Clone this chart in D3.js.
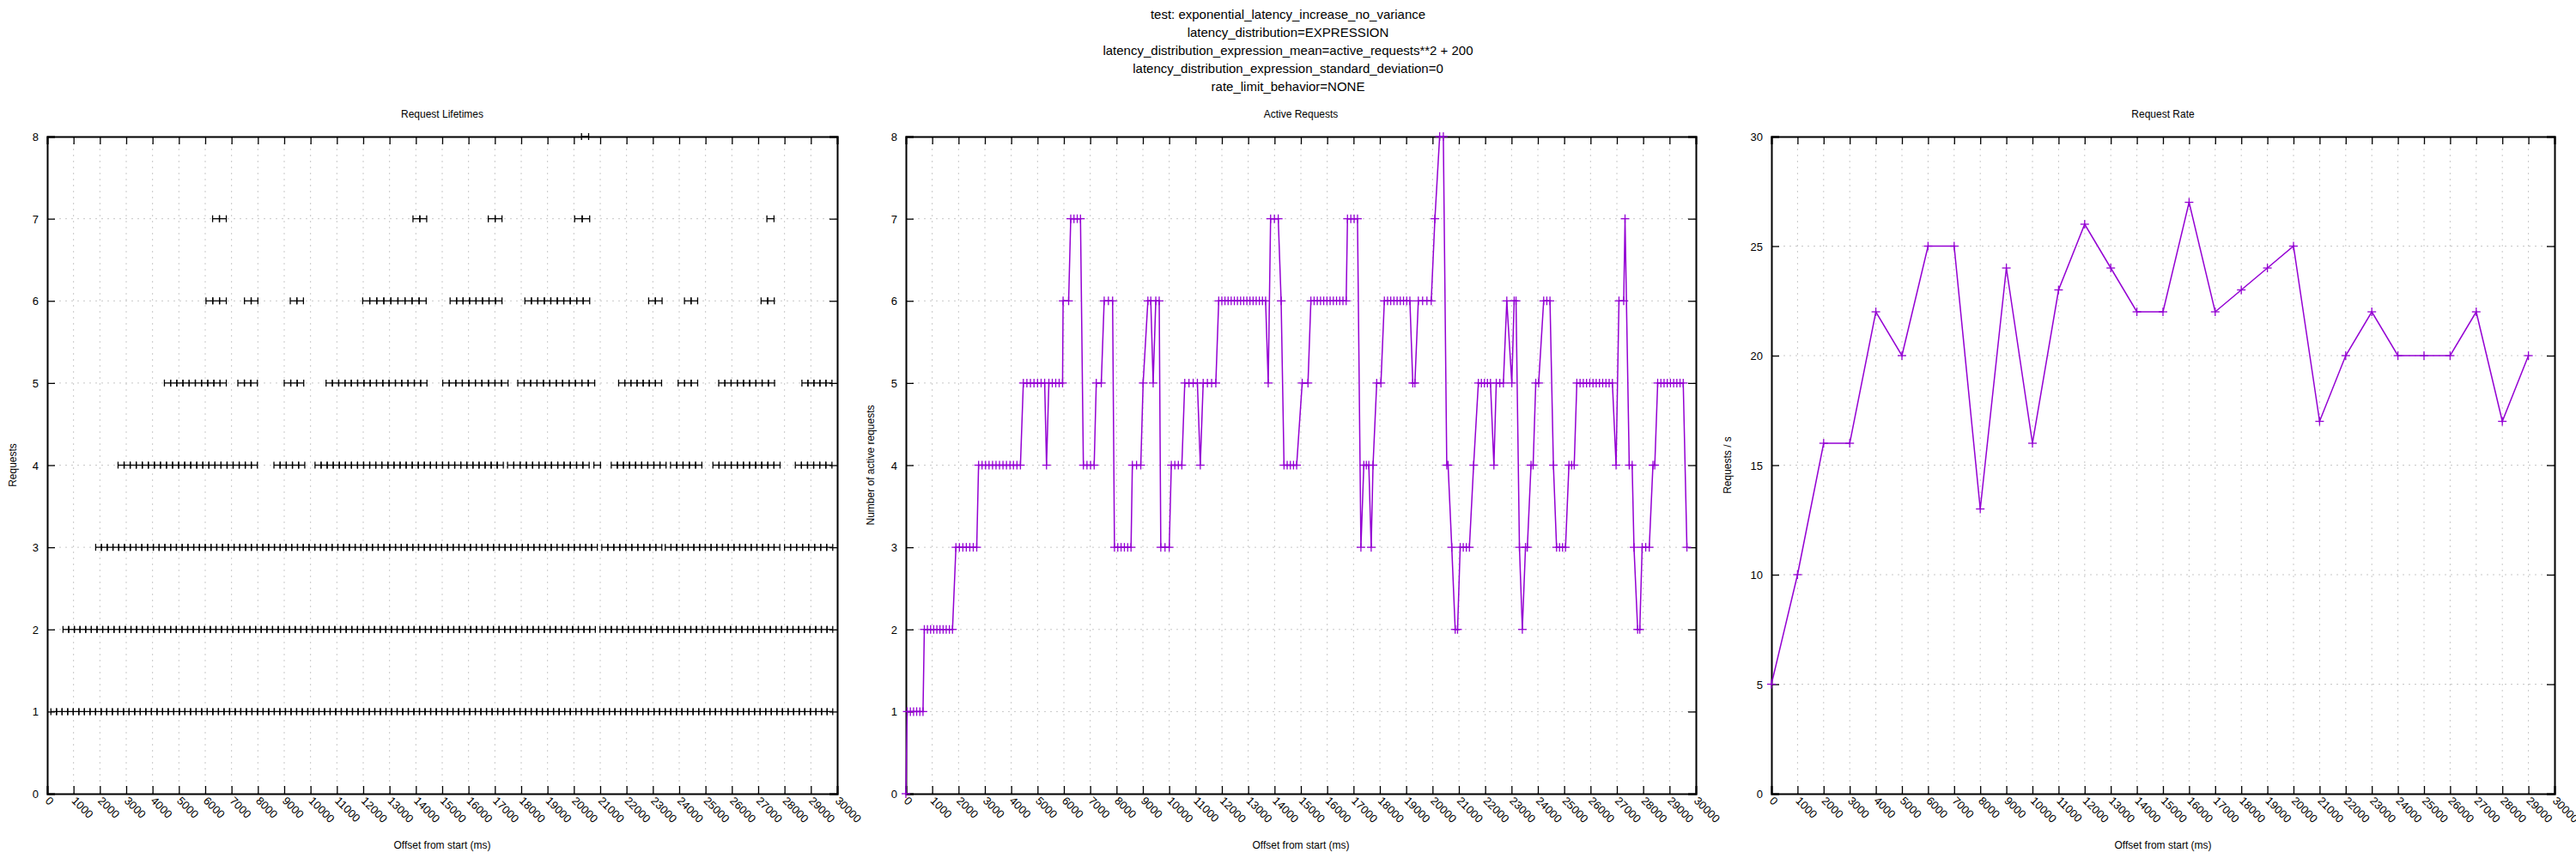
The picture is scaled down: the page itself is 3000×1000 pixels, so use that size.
<!DOCTYPE html>
<html><head><meta charset="utf-8">
<script src="https://cdn.jsdelivr.net/npm/d3@7"></script>
<style>body{margin:0;background:#fff}svg{font-family:"Liberation Sans",Arial,sans-serif}</style>
</head><body><svg id="c" width="3000" height="1000"></svg>
<script>
const titleLines = ["test: exponential_latency_increase_no_variance","latency_distribution=EXPRESSION","latency_distribution_expression_mean=active_requests**2 + 200","latency_distribution_expression_standard_deviation=0","rate_limit_behavior=NONE"];
const xTicks = d3.range(0, 30001, 1000);
// Request lifetimes: [level, start ms, end ms, number of consecutive requests]
const lifetimeRuns = [
 [1,140,29830,140],
 [2,600,20815,94],[2,20990,29830,41],
 [3,1840,20890,87],[3,21060,23340,10],[3,23470,27820,20],[3,28000,29830,8],
 [4,2690,7980,23],[4,8610,9780,5],[4,10170,17320,31],[4,17480,20580,13],[4,20760,21010,1],[4,21420,23500,9],[4,23670,24860,5],[4,25280,27830,11],[4,28410,29800,6],
 [5,4450,6800,10],[5,7240,7980,3],[5,9000,9740,3],[5,10590,14420,16],[5,15020,17500,10],[5,17870,20790,12],[5,21700,23330,7],[5,23960,24700,3],[5,25500,27620,9],[5,28660,29800,5],
 [6,6030,6800,3],[6,7490,8000,2],[6,9230,9730,2],[6,11980,14390,9],[6,15300,17270,8],[6,18140,20600,10],[6,22840,23350,2],[6,24200,24700,2],[6,27110,27610,2],
 [7,6280,6800,2],[7,13890,14410,2],[7,16750,17270,2],[7,20030,20600,2],[7,27330,27600,1],
 [8,20290,20560,1]
];
// Active requests plateaus: [value, first ms, last ms, number of samples]
const activePlateaus = [
 [0,0,0,1],[1,50,650,6],[2,700,1770,10],[3,1900,2690,7],[4,2760,4350,13],[5,4460,5270,7],[4,5340,5340,1],[5,5430,5950,5],[6,5970,6180,2],[7,6260,6630,4],[4,6740,7150,4],[5,7230,7420,2],[6,7530,7850,3],[3,7920,8550,6],[4,8600,8920,3],[5,9010,9010,1],[6,9190,9300,2],[5,9390,9390,1],[6,9490,9620,2],[3,9680,10000,3],[4,10080,10480,4],[5,10590,11070,4],[4,11180,11180,1],[5,11290,11770,4],[6,11880,13660,16],[5,13760,13760,1],[7,13850,14140,3],[6,14250,14250,1],[4,14360,14840,5],
 [5,15050,15270,2],[6,15380,16720,12],[7,16770,17150,4],[3,17280,17280,1],[4,17390,17580,3],[3,17670,17670,1],[4,17740,17740,1],[5,17880,18040,2],[6,18170,19140,9],[5,19250,19330,2],[6,19460,19950,4],[7,20090,20090,1],[8,20270,20410,2],[4,20540,20590,2],[3,20730,20730,1],[2,20860,20950,2],[3,21050,21400,4],[4,21560,21560,1],[5,21740,22200,5],[4,22330,22330,1],[5,22420,22690,3],[6,22820,22820,1],[5,23010,23010,1],[6,23100,23170,2],[3,23300,23300,1],[2,23410,23410,1],[3,23530,23600,2],[4,23740,23820,2],[5,23920,24030,2],[6,24220,24460,3],[4,24590,24590,1],[3,24710,25050,4],[4,25180,25380,3],[5,25480,26830,12],[4,26970,26970,1],[6,27080,27260,2],[7,27310,27310,1],[4,27470,27580,2],[3,27650,27650,1],[2,27790,27870,2],[3,27960,28230,3],[4,28370,28440,2],[5,28550,29520,9],[3,29660,29660,1]
];
const rateTimes = d3.range(0, 29001, 1000);
const rateValues = [5,10,16,16,22,20,25,25,13,24,16,23,26,24,22,22,27,22,23,24,25,17,20,22,20,20,20,22,17,20];

const svg = d3.select("#c");
const purple = "#9400d3";
svg.selectAll("text.t").data(titleLines).join("text").attr("class","t")
  .attr("x",1500).attr("y",(d,i)=>22+i*21).attr("text-anchor","middle").attr("font-size",15).text(d=>d);

const yTop=159, yBottom=924;
function panel(x0,x1,ymax,yticks,title,ylabel,ylx){
  const g = svg.append("g");
  const x = d3.scaleLinear().domain([0,30000]).range([x0,x1]);
  const y = d3.scaleLinear().domain([0,ymax]).range([yBottom,yTop]);
  g.selectAll("line.gx").data(xTicks.slice(1,-1)).join("line").attr("class","gx").attr("x1",x).attr("x2",x).attr("y1",yTop).attr("y2",yBottom)
    .attr("stroke","#c8c8c8").attr("stroke-dasharray","2,5");
  g.selectAll("line.gy").data(yticks.slice(1,-1)).join("line").attr("class","gy").attr("y1",y).attr("y2",y).attr("x1",x0).attr("x2",x1)
    .attr("stroke","#c8c8c8").attr("stroke-dasharray","2,5");
  const ax = g.append("g").attr("transform",`translate(0,${yBottom})`).call(d3.axisBottom(x).tickValues(xTicks).tickSize(-9).tickFormat(""));
  const axt = g.append("g").attr("transform",`translate(0,${yTop})`).call(d3.axisTop(x).tickValues(xTicks).tickSize(-9).tickFormat(""));
  const ay = g.append("g").attr("transform",`translate(${x0},0)`).call(d3.axisLeft(y).tickValues(yticks).tickSize(-9).tickFormat(""));
  const ayr = g.append("g").attr("transform",`translate(${x1},0)`).call(d3.axisRight(y).tickValues(yticks).tickSize(-9).tickFormat(""));
  [ax,axt,ay,ayr].forEach(a=>{a.selectAll("path").attr("stroke","#000").attr("stroke-width",2);a.selectAll("line").attr("stroke","#000").attr("stroke-width",1.3);});
  g.selectAll("text.xl").data(xTicks).join("text").attr("class","xl").attr("font-size",13)
    .attr("transform",d=>`translate(${x(d)-3},${yBottom+9}) rotate(45)`).text(d=>d);
  g.selectAll("text.yl").data(yticks).join("text").attr("class","yl").attr("font-size",13).attr("text-anchor","end")
    .attr("x",x0-10).attr("y",d=>y(d)+5).text(d=>d);
  g.append("text").attr("x",(x0+x1)/2).attr("y",137).attr("text-anchor","middle").attr("font-size",12).text(title);
  g.append("text").attr("x",(x0+x1)/2).attr("y",988).attr("text-anchor","middle").attr("font-size",12).text("Offset from start (ms)");
  g.append("text").attr("transform",`translate(${ylx},${(yTop+yBottom)/2}) rotate(-90)`).attr("text-anchor","middle").attr("font-size",12).text(ylabel);
  return {g,x,y};
}

{
  const p = panel(55,975,8,d3.range(0,9),"Request Lifetimes","Requests",19);
  const segs=[];
  lifetimeRuns.forEach(([lv,s,e,n])=>{const w=(e-s)/n;for(let i=0;i<n;i++)segs.push([lv,s+i*w,s+(i+1)*w]);});
  const sg=p.g.append("g").attr("stroke","#000").attr("stroke-width",1.3);
  segs.forEach(([lv,a,b])=>{
    const yy=p.y(lv);
    sg.append("line").attr("x1",p.x(a)).attr("x2",p.x(b)).attr("y1",yy).attr("y2",yy);
    sg.append("line").attr("x1",p.x(a)).attr("x2",p.x(a)).attr("y1",yy-4).attr("y2",yy+4);
    sg.append("line").attr("x1",p.x(b)).attr("x2",p.x(b)).attr("y1",yy-4).attr("y2",yy+4);
  });
}
function plus(g,pts,x,y){
  const m=g.append("g").attr("stroke",purple).attr("stroke-width",1.3);
  pts.forEach(d=>{const cx=x(d[0]),cy=y(d[1]);
    m.append("line").attr("x1",cx-5).attr("x2",cx+5).attr("y1",cy).attr("y2",cy);
    m.append("line").attr("x1",cx).attr("x2",cx).attr("y1",cy-5).attr("y2",cy+5);});
}
{
  const p = panel(1055,1975,8,d3.range(0,9),"Active Requests","Number of active requests",1018);
  const pts=[];
  activePlateaus.forEach(([v,a,b,n])=>{for(let i=0;i<n;i++)pts.push([n>1?a+(b-a)*i/(n-1):a,v]);});
  p.g.append("path").datum(pts).attr("fill","none").attr("stroke",purple).attr("stroke-width",1.5)
    .attr("d",d3.line().x(d=>p.x(d[0])).y(d=>p.y(d[1])));
  plus(p.g,pts,p.x,p.y);
}
{
  const p = panel(2063,2975,30,d3.range(0,31,5),"Request Rate","Requests / s",2016);
  const pts=rateTimes.map((t,i)=>[t,rateValues[i]]);
  p.g.append("path").datum(pts).attr("fill","none").attr("stroke",purple).attr("stroke-width",1.5)
    .attr("d",d3.line().x(d=>p.x(d[0])).y(d=>p.y(d[1])));
  plus(p.g,pts,p.x,p.y);
}
</script></body></html>
